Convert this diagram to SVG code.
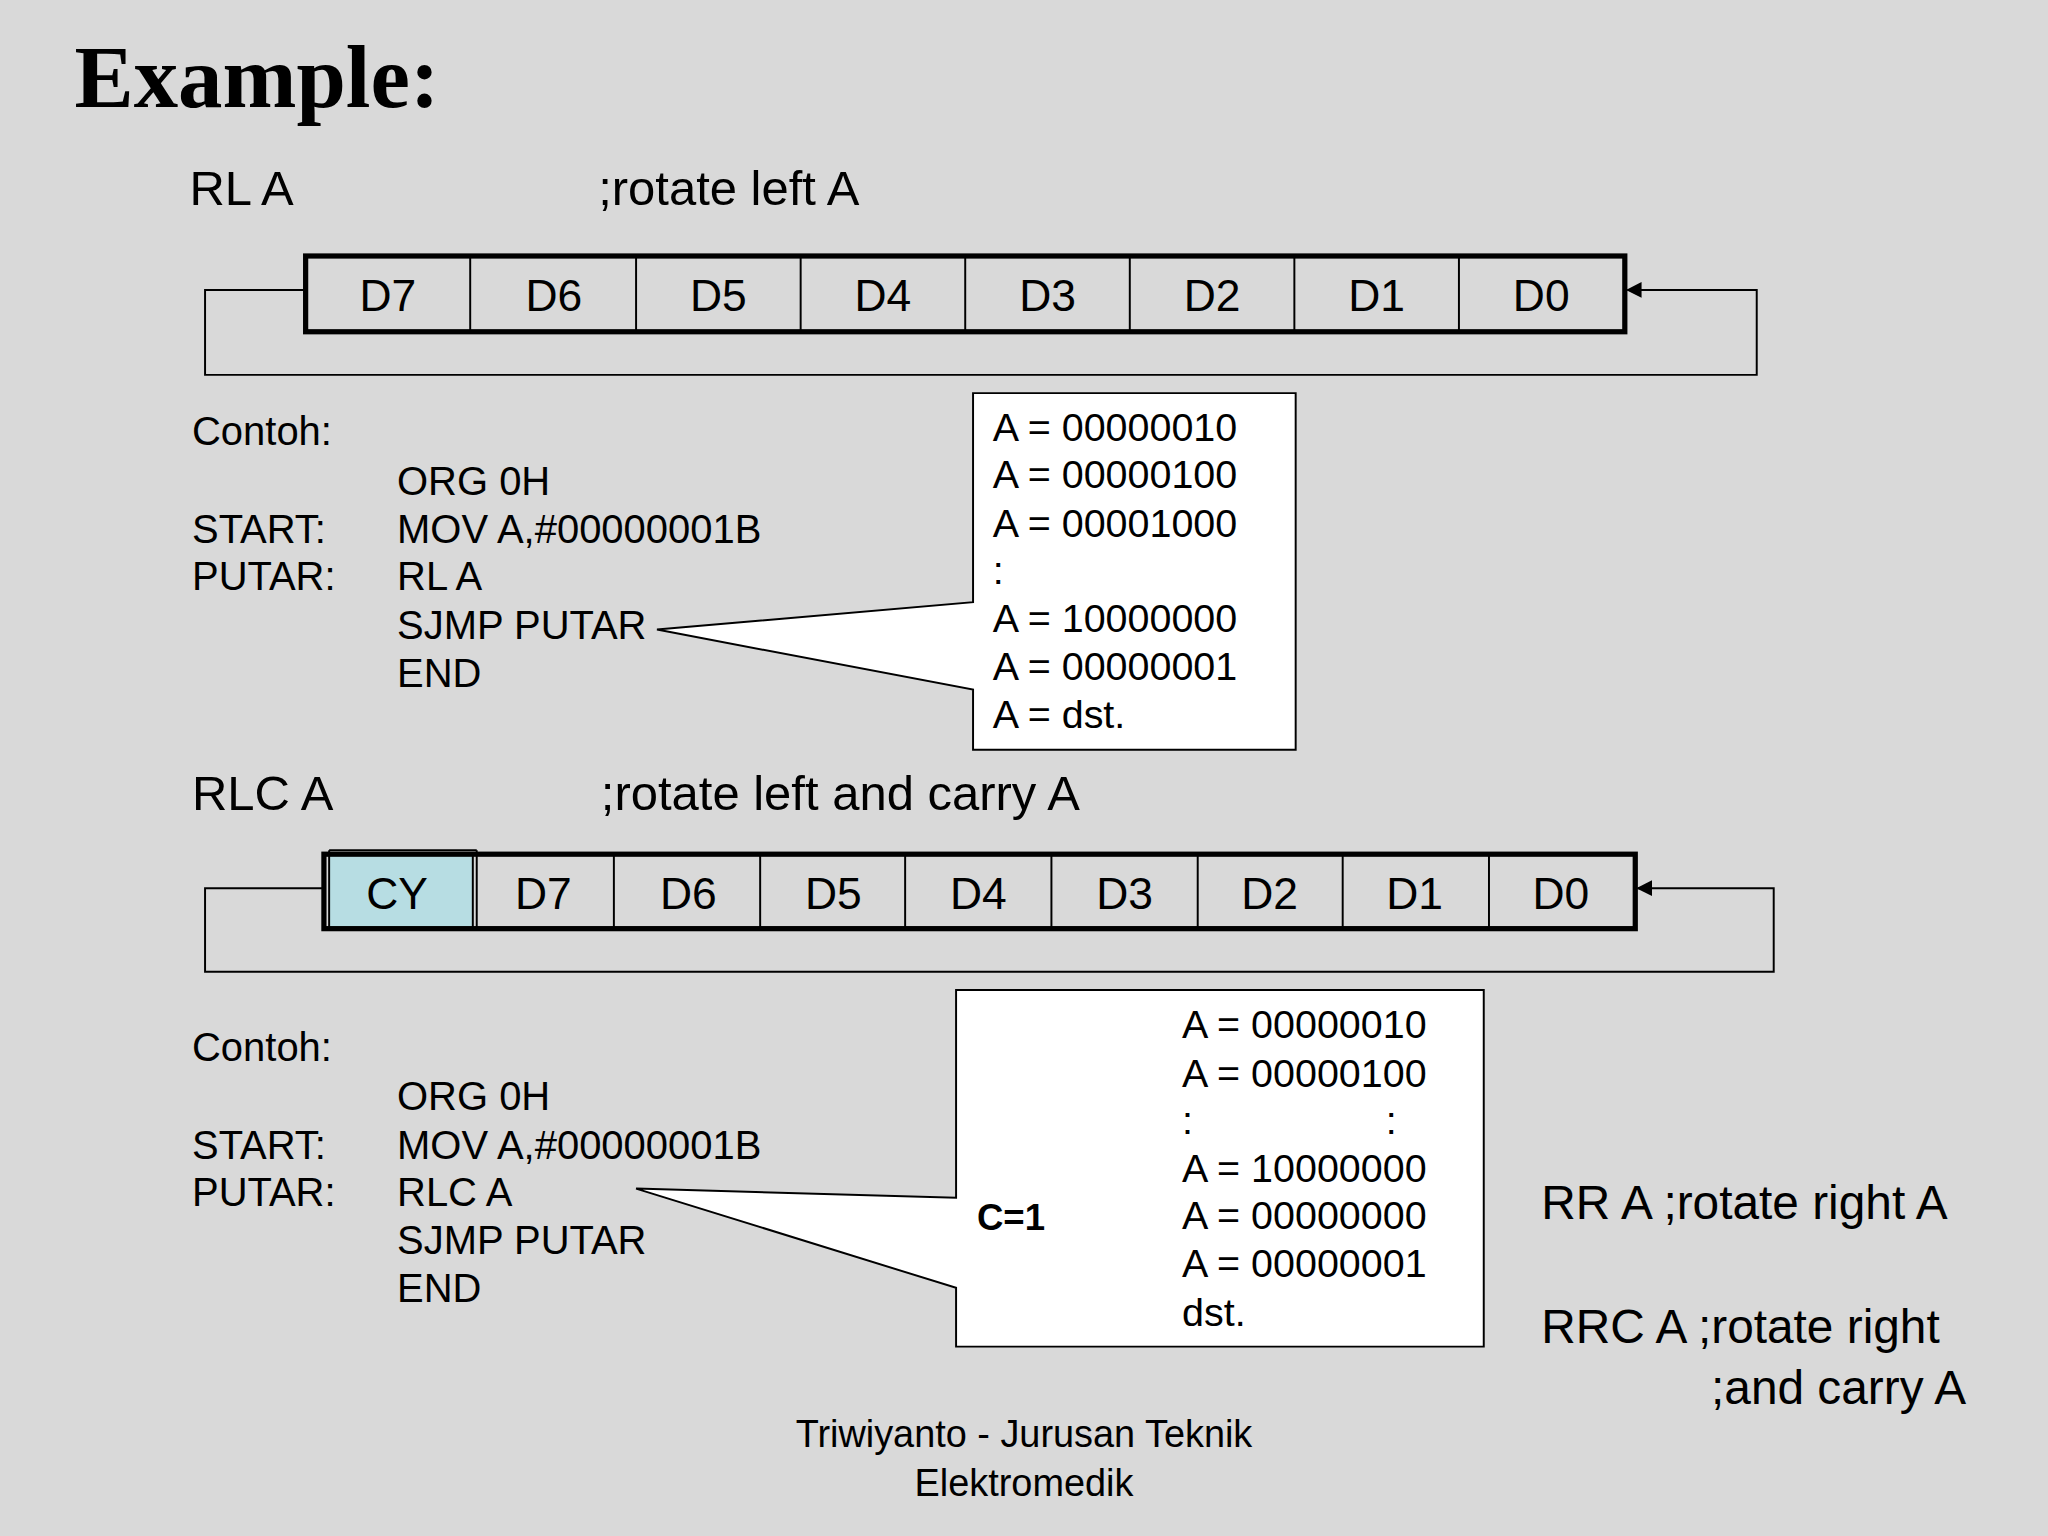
<svg xmlns="http://www.w3.org/2000/svg" width="2048" height="1536" viewBox="0 0 2048 1536">
<style>
text{font-family:"Liberation Sans",Arial,sans-serif;fill:#000}
.h{font-size:37.5px}.n{font-size:36.6px}.c{font-size:30.6px}.r{font-size:34px;text-anchor:middle}.b{font-size:30.2px}
.reg{fill:none;stroke:#000;stroke-width:4}.div{stroke:#000;stroke-width:1.5}
.ln{fill:none;stroke:#000;stroke-width:1.5}
.co{fill:#fff;stroke:#000;stroke-width:1.5}
</style>
<defs><marker id="ah" viewBox="0 0 10 10" refX="9" refY="5" markerWidth="8" markerHeight="8" orient="auto"><path d="M0,0 L10,5 L0,10 z" fill="#000"/></marker></defs>
<rect width="2048" height="1536" fill="#d9d9d9"/>
<g transform="scale(1.30612)">
<text x="57" y="82" style="font-family:'Liberation Serif',serif;font-weight:bold;font-size:68px">Example:</text>
<g id="rl-header"><text class="h" x="145" y="157">RL A</text><text class="h" x="458" y="157">;rotate left A</text></g>
<g id="connectors">
<path class="ln" d="M234,222 H157 V287 H1345 V222 H1246" marker-end="url(#ah)"/>
<path class="ln" d="M248,680 H157 V744 H1358 V680 H1254" marker-end="url(#ah)"/>
</g>
<g id="reg1">
<rect class="reg" x="234" y="196" width="1010" height="58"/>
<path class="div" d="M360,196V254M487,196V254M613,196V254M739,196V254M865,196V254M991,196V254M1117,196V254"/>
<text class="r" x="297" y="238">D7</text><text class="r" x="424" y="238">D6</text><text class="r" x="550" y="238">D5</text><text class="r" x="676" y="238">D4</text><text class="r" x="802" y="238">D3</text><text class="r" x="928" y="238">D2</text><text class="r" x="1054" y="238">D1</text><text class="r" x="1180" y="238">D0</text>
</g>
<g id="code1" class="c">
<text x="147" y="341">Contoh:</text>
<text x="304" y="379">ORG 0H</text>
<text x="147" y="416">START:</text><text x="304" y="416">MOV A,#00000001B</text>
<text x="147" y="452">PUTAR:</text><text x="304" y="452">RL A</text>
<text x="304" y="489">SJMP PUTAR</text>
<text x="304" y="526">END</text>
</g>
<g id="callout1">
<path class="co" d="M745,301 H992 V574 H745 V528 L503,482 L745,461 Z"/>
<g class="b"><text x="760" y="338">A = 00000010</text><text x="760" y="374">A = 00000100</text><text x="760" y="411">A = 00001000</text><text x="760" y="447">:</text><text x="760" y="484">A = 10000000</text><text x="760" y="521">A = 00000001</text><text x="760" y="557">A = dst.</text></g>
</g>
<g id="rlc-header"><text class="h" x="147" y="620">RLC A</text><text class="h" x="460" y="620">;rotate left and carry A</text></g>
<g id="reg2">
<rect x="252" y="654" width="110" height="56" fill="#b7dde3"/>
<rect class="reg" x="248" y="654" width="1004" height="57"/>
<path class="div" d="M252,651V711M365,651V711M362,654V711M470,654V711M582,654V711M693,654V711M805,654V711M917,654V711M1028,654V711M1140,654V711"/>
<path class="div" d="M252,651H365"/>
<text class="r" x="304" y="696">CY</text><text class="r" x="416" y="696">D7</text><text class="r" x="527" y="696">D6</text><text class="r" x="638" y="696">D5</text><text class="r" x="749" y="696">D4</text><text class="r" x="861" y="696">D3</text><text class="r" x="972" y="696">D2</text><text class="r" x="1083" y="696">D1</text><text class="r" x="1195" y="696">D0</text>
</g>
<g id="code2" class="c">
<text x="147" y="812">Contoh:</text>
<text x="304" y="850">ORG 0H</text>
<text x="147" y="887">START:</text><text x="304" y="887">MOV A,#00000001B</text>
<text x="147" y="923">PUTAR:</text><text x="304" y="923">RLC A</text>
<text x="304" y="960">SJMP PUTAR</text>
<text x="304" y="997">END</text>
</g>
<g id="callout2">
<path class="co" d="M732,758 H1136 V1031 H732 V986 L487,910 L732,917 Z"/>
<text x="748" y="942" style="font-size:28px;font-weight:bold">C=1</text>
<g class="b"><text x="905" y="795">A = 00000010</text><text x="905" y="832">A = 00000100</text><text x="905" y="868">:</text><text x="1061" y="868">:</text><text x="905" y="905">A = 10000000</text><text x="905" y="941">A = 00000000</text><text x="905" y="978">A = 00000001</text><text x="905" y="1015">dst.</text></g>
</g>
<g id="notes" class="n">
<text x="1180" y="933">RR A ;rotate right A</text>
<text x="1180" y="1028">RRC A ;rotate right</text>
<text x="1310" y="1075">;and carry A</text>
</g>
<g id="footer" style="font-size:29px">
<text x="784" y="1108" text-anchor="middle">Triwiyanto - Jurusan Teknik</text>
<text x="784" y="1145" text-anchor="middle">Elektromedik</text>
</g>
</g>
</svg>
